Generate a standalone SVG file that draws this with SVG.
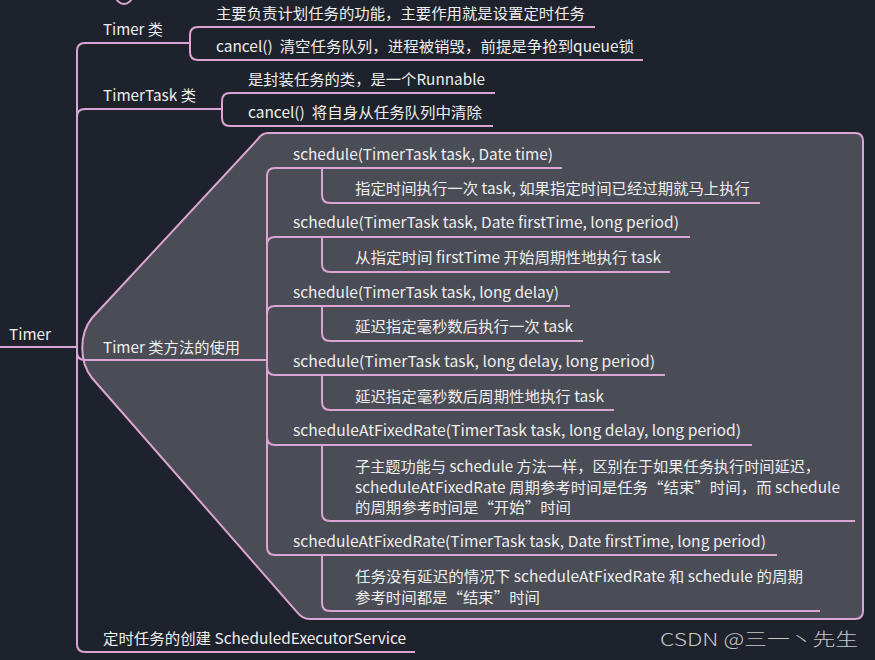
<svg xmlns="http://www.w3.org/2000/svg" width="875" height="660" viewBox="0 0 875 660">
<style>
text{font-family:"Noto Sans CJK SC","Noto Sans",sans-serif;font-size:15px;fill:#eeeeee;white-space:pre}
.c{fill:none;stroke:#dca4d3;stroke-width:2}
.w{font-size:18px;fill:#c8c8c8;font-weight:300}
</style>
<rect width="875" height="660" fill="#1e222c"/>
<g id="panel">
<path d="M268,133 L855,133 Q863,133 863,141 L863,611 Q863,619 855,619 L310,619 Q302,619 297,612 L92,378 C79,362 79,334 92,318 L258,139 Q262,133 268,133 Z" fill="#4a4c56" stroke="#dca4d3" stroke-width="2"/>
</g>
<g id="connectors">
<circle class="c" cx="124" cy="-4" r="8"/>
<path class="c" d="M0,347 H77"/>
<path class="c" d="M190,43 H85 Q77,43 77,51 V644 Q77,652 85,652 H415"/>
<path class="c" d="M77,117 Q77,109 85,109 H222"/>
<path class="c" d="M77,352 Q77,360 85,360 H267"/>
<path class="c" d="M595,27 H198 Q190,27 190,35 V52 Q190,60 198,60 H643"/>
<path class="c" d="M495,93 H230 Q222,93 222,101 V118 Q222,126 230,126 H493"/>
<path class="c" d="M562,168 H275 Q267,168 267,176 V547 Q267,555 275,555 H777"/>
<path class="c" d="M267,245 Q267,237 275,237 H690"/>
<path class="c" d="M267,314 Q267,306 275,306 H570"/>
<path class="c" d="M267,367 Q267,375 275,375 H665"/>
<path class="c" d="M267,437 Q267,445 275,445 H752"/>
<path class="c" d="M322,168 V195 Q322,203 330,203 H760"/>
<path class="c" d="M322,237 V264 Q322,272 330,272 H670"/>
<path class="c" d="M322,306 V333 Q322,341 330,341 H583"/>
<path class="c" d="M322,375 V402 Q322,410 330,410 H614"/>
<path class="c" d="M322,445 V513 Q322,521 330,521 H855"/>
<path class="c" d="M322,555 V603 Q322,611 330,611 H820"/>
</g>
<g id="n-root"><text x="9" y="340" textLength="42" lengthAdjust="spacingAndGlyphs">Timer</text></g>
<g id="n-timer"><text x="103" y="35" textLength="60" lengthAdjust="spacingAndGlyphs">Timer 类</text></g>
<g id="n-timer-1"><text x="216" y="19" textLength="369" lengthAdjust="spacingAndGlyphs">主要负责计划任务的功能，主要作用就是设置定时任务</text></g>
<g id="n-timer-2"><text x="216" y="52" textLength="418" lengthAdjust="spacingAndGlyphs">cancel()  清空任务队列，进程被销毁，前提是争抢到queue锁</text></g>
<g id="n-timertask"><text x="103" y="101" textLength="93" lengthAdjust="spacingAndGlyphs">TimerTask 类</text></g>
<g id="n-timertask-1"><text x="248" y="85" textLength="237" lengthAdjust="spacingAndGlyphs">是封装任务的类，是一个Runnable</text></g>
<g id="n-timertask-2"><text x="248" y="118" textLength="234" lengthAdjust="spacingAndGlyphs">cancel()  将自身从任务队列中清除</text></g>
<g id="n-methods"><text x="103" y="353" textLength="137" lengthAdjust="spacingAndGlyphs">Timer 类方法的使用</text></g>
<g id="n-m1"><text x="293" y="160" textLength="260" lengthAdjust="spacingAndGlyphs">schedule(TimerTask task, Date time)</text></g>
<g id="n-m1-d"><text x="355" y="194" textLength="395" lengthAdjust="spacingAndGlyphs">指定时间执行一次 task, 如果指定时间已经过期就马上执行</text></g>
<g id="n-m2"><text x="293" y="228" textLength="386" lengthAdjust="spacingAndGlyphs">schedule(TimerTask task, Date firstTime, long period)</text></g>
<g id="n-m2-d"><text x="355" y="263" textLength="306" lengthAdjust="spacingAndGlyphs">从指定时间 firstTime 开始周期性地执行 task</text></g>
<g id="n-m3"><text x="293" y="298" textLength="266" lengthAdjust="spacingAndGlyphs">schedule(TimerTask task, long delay)</text></g>
<g id="n-m3-d"><text x="355" y="332" textLength="218" lengthAdjust="spacingAndGlyphs">延迟指定毫秒数后执行一次 task</text></g>
<g id="n-m4"><text x="293" y="367" textLength="362" lengthAdjust="spacingAndGlyphs">schedule(TimerTask task, long delay, long period)</text></g>
<g id="n-m4-d"><text x="355" y="402" textLength="249" lengthAdjust="spacingAndGlyphs">延迟指定毫秒数后周期性地执行 task</text></g>
<g id="n-m5"><text x="293" y="436" textLength="448" lengthAdjust="spacingAndGlyphs">scheduleAtFixedRate(TimerTask task, long delay, long period)</text></g>
<g id="n-m5-d">
<text x="355" y="472" textLength="465" lengthAdjust="spacingAndGlyphs">子主题功能与 schedule 方法一样，区别在于如果任务执行时间延迟，</text>
<text x="355" y="493" textLength="485" lengthAdjust="spacingAndGlyphs">scheduleAtFixedRate 周期参考时间是任务“结束”时间，而 schedule</text>
<text x="355" y="513" textLength="216" lengthAdjust="spacingAndGlyphs">的周期参考时间是“开始”时间</text>
</g>
<g id="n-m6"><text x="293" y="547" textLength="473" lengthAdjust="spacingAndGlyphs">scheduleAtFixedRate(TimerTask task, Date firstTime, long period)</text></g>
<g id="n-m6-d">
<text x="355" y="582" textLength="448" lengthAdjust="spacingAndGlyphs">任务没有延迟的情况下 scheduleAtFixedRate 和 schedule 的周期</text>
<text x="355" y="603" textLength="185" lengthAdjust="spacingAndGlyphs">参考时间都是“结束”时间</text>
</g>
<g id="n-scheduled"><text x="103" y="644" textLength="303" lengthAdjust="spacingAndGlyphs">定时任务的创建 ScheduledExecutorService</text></g>
<text class="w" x="660" y="646" textLength="198" lengthAdjust="spacingAndGlyphs">CSDN @三一丶先生</text>
</svg>
